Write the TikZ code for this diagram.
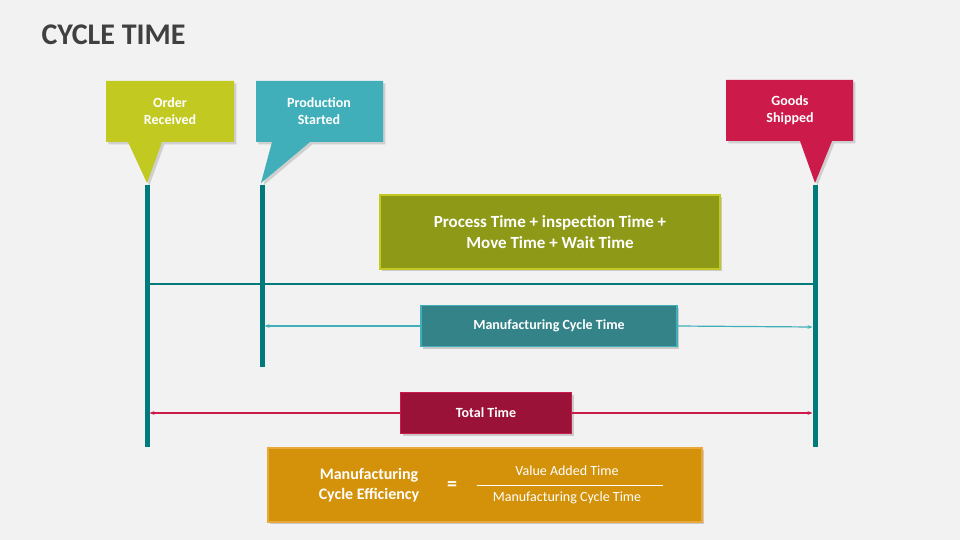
\documentclass[tikz,border=0pt]{standalone}
\usepackage{fontspec}
\setmainfont{Carlito}
\usetikzlibrary{arrows.meta,shadows}
\definecolor{bg}{HTML}{F2F2F2}
\definecolor{olive}{HTML}{C2C921}
\definecolor{olivedk}{HTML}{8E9A17}
\definecolor{cyanl}{HTML}{41AFB9}
\definecolor{cyandk}{HTML}{338389}
\definecolor{redl}{HTML}{CC1A4A}
\definecolor{reddk}{HTML}{9B1238}
\definecolor{tealbar}{HTML}{007A7A}
\definecolor{orng}{HTML}{D4920A}
\definecolor{orngl}{HTML}{E8A93A}
\definecolor{titlec}{HTML}{404040}
\begin{document}
\begin{tikzpicture}[x=1pt,y=-1pt,
  lbl/.style={text=white,font=\bfseries\fontsize{14}{17}\selectfont,align=center},
  boxs/.style={draw,line width=1.5pt,drop shadow={opacity=0.35,shadow xshift=2pt,shadow yshift=-2pt}},
  bar/.style={fill=tealbar},
  arr/.style={line width=1.2pt,-{Stealth[length=5pt]}}]
\fill[bg] (0,0) rectangle (960,540);
\useasboundingbox (0,0) rectangle (960,540);
\node[anchor=west,text=titlec,font=\bfseries\fontsize{30}{34}\selectfont] (title) at (38,35) {CYCLE TIME};
% callouts
\fill[olive,drop shadow={opacity=0.3}] (106,81) -- (234,81) -- (234,142) -- (162,142) -- (147,183) -- (128,142) -- (106,142) -- cycle;
\node[lbl] (or) at (170,111) {Order\\Received};
\fill[cyanl,drop shadow={opacity=0.3}] (256,81) -- (383,81) -- (383,142) -- (310,142) -- (261,183) -- (272,142) -- (256,142) -- cycle;
\node[lbl] (ps) at (319,111) {Production\\Started};
\fill[redl,drop shadow={opacity=0.3}] (726,80) -- (853,80) -- (853,141) -- (832,141) -- (815,183) -- (800,141) -- (726,141) -- cycle;
\node[lbl] (gs) at (790,110) {Goods\\Shipped};
% bars
\fill[bar] (144.5,185) rectangle (149.5,447);
\fill[bar] (259.5,185) rectangle (264.5,367);
\fill[bar] (812.5,185) rectangle (817.5,447);
\coordinate (a1) at (147,284); \coordinate (a2) at (815,284);
\draw[tealbar,line width=2.5pt] (a1) -- (a2);
% process
\node[boxs,draw=olive,fill=olivedk,minimum width=340pt,minimum height=74pt,lbl,font=\bfseries\fontsize{17}{21}\selectfont] (proc) at (550,232) {Process Time + inspection Time +\\Move Time + Wait Time};
% MCT
\node[boxs,draw=cyanl,fill=cyandk,minimum width=256pt,minimum height=41pt,lbl] (mct) at (549,326) {Manufacturing Cycle Time};
\coordinate (m1) at (264.5,326); \coordinate (m2) at (812.5,327);
\draw[arr,cyanl] (mct.west) -- (m1);
\draw[arr,cyanl] (mct.east) -- (m2);
% Total
\node[boxs,draw=redl,fill=reddk,minimum width=171pt,minimum height=41pt,lbl] (tt) at (486,413) {Total Time};
\coordinate (t1) at (149.5,413); \coordinate (t2) at (812.5,413);
\draw[arr,redl] (tt.west) -- (t1);
\draw[arr,redl] (tt.east) -- (t2);
% efficiency
\node[boxs,draw=orngl,fill=orng,minimum width=434pt,minimum height=74pt] (eff) at (485,485) {};
\node[lbl,font=\bfseries\fontsize{16}{20}\selectfont] (effl) at (369,485) {Manufacturing\\Cycle Efficiency};
\node[lbl,font=\bfseries\fontsize{20}{24}\selectfont] (eq) at (452,486) {=};
\node[lbl,font=\fontsize{14}{17}\selectfont] (num) at (567,471) {Value Added Time};
\node[lbl,font=\fontsize{14}{17}\selectfont] (den) at (567,498) {Manufacturing Cycle Time};
\coordinate (f1) at (477,485); \coordinate (f2) at (663,485);
\draw[white,line width=0.8pt] (f1) -- (f2);
\end{tikzpicture}
\end{document}
